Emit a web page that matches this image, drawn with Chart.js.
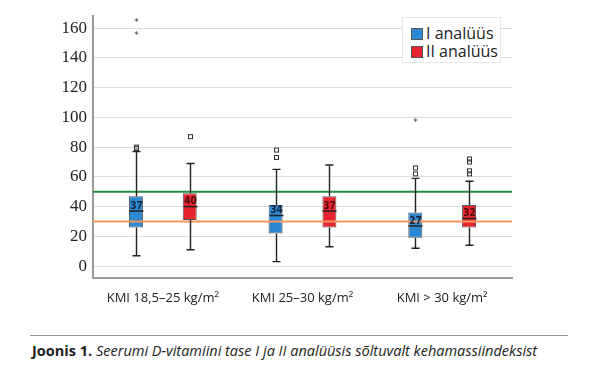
<!DOCTYPE html>
<html>
<head>
<meta charset="utf-8">
<script src="https://cdn.jsdelivr.net/npm/chart.js@4.4.1/dist/chart.umd.min.js"></script>
<style>
  body { margin: 0; background: #fff; width: 600px; height: 367px; position: relative; overflow: hidden; }
  #wrap { position: absolute; left: 0; top: 0; width: 600px; height: 315px; }
  #legend { position: absolute; left: 402px; top: 17px; width: 99px; height: 46px; border: 1px solid #e6e6e6;
            font-family: "Open Sans", sans-serif; font-size: 16px; color: #222; box-sizing: border-box; padding: 6px 0 0 8px; background: #fff; }
  #legend div { height: 18px; line-height: 18px; white-space: nowrap; }
  #legend span { display: inline-block; width: 12px; height: 12px; margin-right: 3px; vertical-align: -1px; box-sizing: border-box; border: 1px solid #555; }
  #rule { position: absolute; left: 30px; top: 335px; width: 538px; border-top: 1px solid #999; }
  #caption { position: absolute; left: 32px; top: 341px; font-family: "Open Sans", sans-serif; font-size: 14.5px; color: #222; }
</style>
</head>
<body>
<div id="wrap"><canvas id="boxChart"></canvas></div>
<div id="legend"></div>
<div id="rule"></div>
<div id="caption"><b>Joonis 1.</b> <i>Seerumi D-vitamiini tase I ja II analüüsis sõltuvalt kehamassiindeksist</i></div>
<script>
const categories = ["KMI 18,5–25 kg/m²", "KMI 25–30 kg/m²", "KMI > 30 kg/m²"];
const seriesNames = ["I analüüs", "II analüüs"];
const seriesColors = ["#2b88d2", "#e8242f"];

// I analüüs
const minA = [7, 3, 12];
const q1A = [26, 22, 19];
const medA = [37, 34, 27];
const q3A = [47, 41, 36];
const maxA = [77, 65, 59];
const outA = [[80, 79], [78, 73], [66, 62]];
const extA = [[165, 156], [], [98]];

// II analüüs
const minB = [11, 13, 14];
const q1B = [31, 26, 26];
const medB = [40, 37, 32];
const q3B = [49, 47, 41];
const maxB = [69, 68, 57];
const outB = [[87], [], [72, 70, 64, 62]];
const extB = [[], [], []];

const yTicks = [0, 20, 40, 60, 80, 100, 120, 140, 160];
const refLines = [{ value: 50, color: "#1f8f3f" }, { value: 30, color: "#f5955a" }];

const stats = [
  { min: minA, q1: q1A, med: medA, q3: q3A, max: maxA, out: outA, ext: extA, text: "#10243f" },
  { min: minB, q1: q1B, med: medB, q3: q3B, max: maxB, out: outB, ext: extB, text: "#4a0b0b" }
];

// legend
document.getElementById("legend").innerHTML = seriesNames.map((n, i) =>
  '<div><span style="background:' + seriesColors[i] + '"></span>' + n + '</div>').join("");

const boxExtras = {
  id: "boxExtras",
  afterDatasetsDraw(chart) {
    const ctx = chart.ctx, y = chart.scales.y, area = chart.chartArea;
    ctx.save();
    // reference lines
    refLines.forEach(r => {
      const py = y.getPixelForValue(r.value);
      ctx.strokeStyle = r.color; ctx.lineWidth = 2;
      ctx.beginPath(); ctx.moveTo(area.left, py); ctx.lineTo(area.right, py); ctx.stroke();
    });
    stats.forEach((s, d) => {
      const meta = chart.getDatasetMeta(d);
      meta.data.forEach((bar, i) => {
        const x = Math.round(bar.x) + 0.5, half = bar.width / 2;
        const pMax = y.getPixelForValue(s.max[i]), pMin = y.getPixelForValue(s.min[i]);
        ctx.strokeStyle = "#222"; ctx.lineWidth = 1.4;
        ctx.beginPath();
        ctx.moveTo(x, y.getPixelForValue(s.q3[i])); ctx.lineTo(x, pMax);
        ctx.moveTo(x, y.getPixelForValue(s.q1[i])); ctx.lineTo(x, pMin);
        ctx.moveTo(x - 4, pMax); ctx.lineTo(x + 4, pMax);
        ctx.moveTo(x - 4, pMin); ctx.lineTo(x + 4, pMin);
        ctx.stroke();
        // median
        const pm = y.getPixelForValue(s.med[i]);
        ctx.lineWidth = 1.5;
        ctx.beginPath(); ctx.moveTo(x - half, pm); ctx.lineTo(x + half, pm); ctx.stroke();
        ctx.fillStyle = s.text; ctx.font = "bold 10px 'DejaVu Sans Condensed', sans-serif";
        ctx.textAlign = "center"; ctx.textBaseline = "bottom";
        ctx.fillText(String(s.med[i]), x, pm);
        // outliers
        ctx.strokeStyle = "#333"; ctx.lineWidth = 1;
        s.out[i].forEach(v => { const p = y.getPixelForValue(v); ctx.strokeRect(x - 2, p - 2, 4, 4); });
        ctx.fillStyle = "#333"; ctx.font = "9px 'DejaVu Sans', sans-serif"; ctx.textBaseline = "middle";
        s.ext[i].forEach(v => { ctx.fillText("*", x, y.getPixelForValue(v) + 2); });
      });
    });
    ctx.restore();
  }
};

new Chart(document.getElementById("boxChart"), {
  type: "bar",
  data: {
    labels: categories,
    datasets: stats.map((s, d) => ({
      label: seriesNames[d],
      data: s.q1.map((v, i) => [v, s.q3[i]]),
      backgroundColor: seriesColors[d],
      borderColor: "#555",
      borderWidth: 1,
      borderSkipped: false,
      barPercentage: 0.26,
      categoryPercentage: 0.77
    }))
  },
  options: {
    maintainAspectRatio: false,
    responsive: true,
    animation: false,
    layout: { padding: { top: 13, right: 88, left: 0, bottom: 0 } },
    plugins: { legend: { display: false }, tooltip: { enabled: false } },
    scales: {
      x: {
        grid: { display: false, drawTicks: false },
        border: { color: "#9a9a9a", width: 2 },
        ticks: { color: "#222", font: { family: "Open Sans", size: 13 }, padding: 12 },
        afterFit(scale) { scale.height = 37; }
      },
      y: {
        min: -8, max: 168,
        afterBuildTicks(scale) { scale.ticks = yTicks.map(v => ({ value: v })); },
        grid: { color: "#dedede", lineWidth: 1, drawTicks: false },
        border: { color: "#9a9a9a", width: 2 },
        ticks: { color: "#222", font: { family: "Liberation Sans Narrow", size: 17 }, padding: 6 },
        afterFit(scale) { scale.width = 93; }
      }
    }
  },
  plugins: [boxExtras]
});
</script>
</body>
</html>
